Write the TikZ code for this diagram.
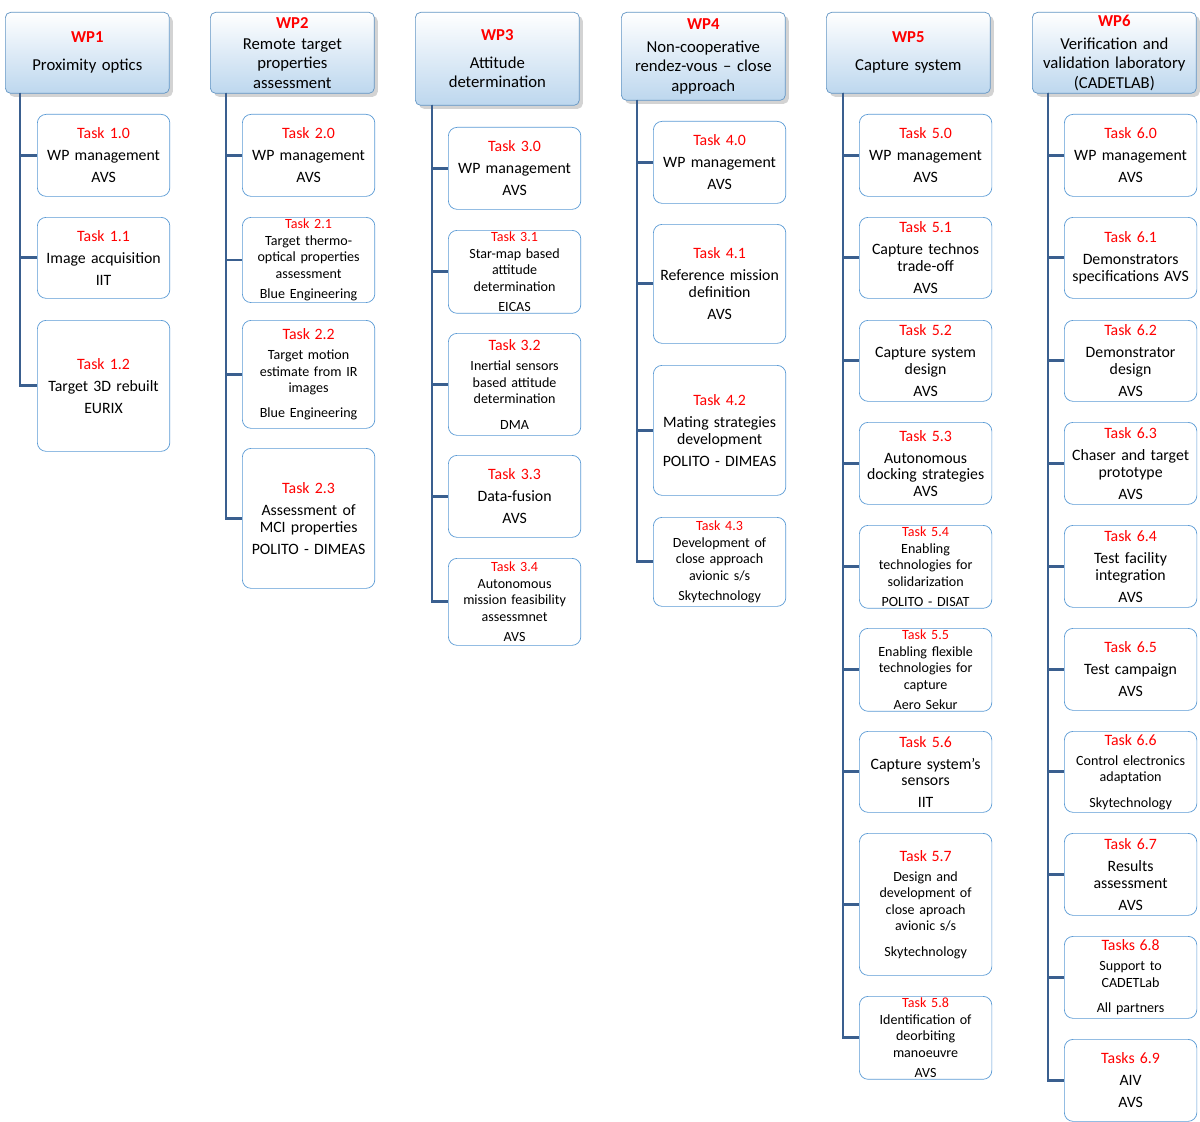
\documentclass[tikz,border=0pt]{standalone}
\usepackage{fontspec}
\setmainfont{Carlito}
\usetikzlibrary{shadows}
\definecolor{wpblue}{HTML}{BDD7EE}
\definecolor{linkblue}{HTML}{3A5F8F}
\definecolor{boxline}{HTML}{5B9BD5}
\tikzset{
  wpbox/.style={draw=boxline!80!gray, rounded corners=3pt, top color=white, bottom color=wpblue,
    drop shadow={opacity=0.35, shadow xshift=2pt, shadow yshift=-2pt},
    minimum width=3.28cm, text width=3.2cm, align=center, anchor=north west, inner sep=1pt,
    font=\fontsize{9.5}{11}\selectfont},
  taskbox/.style={draw=boxline, rounded corners=5pt, fill=white, minimum width=2.62cm,
    text width=2.58cm, align=center, anchor=north west, inner sep=1pt,
    font=\fontsize{9}{12.5}\selectfont},
  dense/.style={font=\fontsize{8}{9.4}\selectfont},
  link/.style={draw=linkblue, line width=1.6pt}
}
\hyphenpenalty=10000
% name, x, top, bottom, spine, text
\newcommand{\task}[7][]{%
  \node[taskbox,#1,minimum height={(#5-#4)*0.02cm}] (#2) at (#3,#4) {#7};
  \draw[link] (#6) |- (#2.west);}
\newcommand{\wpt}[1]{\textcolor{red}{#1}}
\begin{document}
\begin{tikzpicture}[x=0.02cm,y=-0.02cm]
\useasboundingbox (0,0) rectangle (1200,1122);

% WP1
\node[wpbox,minimum height=1.62cm] (wp1) at (5,12) {\wpt{\textbf{WP1}}\\[5pt]Proximity optics};
\coordinate (s1) at (20,93);
\task{t10}{37}{114}{196}{s1}{\wpt{Task 1.0}\\WP management\\AVS}
\task{t11}{37}{217}{298}{s1}{\wpt{Task 1.1}\\Image acquisition\\IIT}
\task{t12}{37}{320}{451}{s1}{\wpt{Task 1.2}\\Target 3D rebuilt\\EURIX}

% WP2
\node[wpbox,minimum height=1.62cm] (wp2) at (210,12) {\wpt{\textbf{WP2}}\\[1pt]Remote target\\properties\\assessment};
\coordinate (s2) at (226,93);
\task{t20}{242}{114}{196}{s2}{\wpt{Task 2.0}\\WP management\\AVS}
\task[dense]{t21}{242}{217}{298}{s2}{\wpt{Task 2.1}\\Target thermo-\\optical properties\\assessment\\[2pt]Blue Engineering}
\task[dense]{t22}{242}{320}{428}{s2}{\wpt{\fontsize{9}{10}\selectfont Task 2.2}\\[2pt]Target motion\\estimate from IR\\images\\[5pt]Blue Engineering}
\task{t23}{242}{448}{588}{s2}{\wpt{Task 2.3}\\Assessment of\\[-3pt]MCI properties\\POLITO - DIMEAS}

% WP3
\node[wpbox,minimum height=1.86cm] (wp3) at (415,12) {\wpt{\textbf{WP3}}\\[5pt]Attitude\\determination};
\coordinate (s3) at (432,105);
\task{t30}{448}{127}{209}{s3}{\wpt{Task 3.0}\\WP management\\AVS}
\task[dense]{t31}{448}{230}{311}{s3}{\wpt{Task 3.1}\\Star-map based\\attitude\\determination\\[2pt]EICAS}
\task[dense]{t32}{448}{333}{435}{s3}{\wpt{\fontsize{9}{10}\selectfont Task 3.2}\\[2pt]Inertial sensors\\based attitude\\determination\\[5pt]DMA}
\task{t33}{448}{455}{537}{s3}{\wpt{Task 3.3}\\Data-fusion\\AVS}
\task[dense]{t34}{448}{558}{645}{s3}{\wpt{Task 3.4}\\Autonomous\\mission feasibility\\assessmnet\\[2pt]AVS}

% WP4
\node[wpbox,minimum height=1.76cm] (wp4) at (621,12) {\wpt{\textbf{WP4}}\\[2pt]Non-cooperative\\rendez-vous -- close\\approach};
\coordinate (s4) at (637,100);
\task{t40}{653}{121}{203}{s4}{\wpt{Task 4.0}\\WP management\\AVS}
\task{t41}{653}{224}{343}{s4}{\wpt{Task 4.1}\\Reference mission\\[-3pt]definition\\AVS}
\task{t42}{653}{365}{495}{s4}{\wpt{Task 4.2}\\Mating strategies\\[-3pt]development\\POLITO - DIMEAS}
\task[dense]{t43}{653}{517}{606}{s4}{\wpt{Task 4.3}\\Development of\\close approach\\avionic s/s\\[2pt]Skytechnology}

% WP5
\node[wpbox,minimum height=1.62cm] (wp5) at (826,12) {\wpt{\textbf{WP5}}\\[5pt]Capture system};
\coordinate (s5) at (843,93);
\task{t50}{859}{114}{196}{s5}{\wpt{Task 5.0}\\WP management\\AVS}
\task{t51}{859}{217}{298}{s5}{\wpt{Task 5.1}\\Capture technos\\[-3pt]trade-off\\AVS}
\task{t52}{859}{320}{401}{s5}{\wpt{Task 5.2}\\Capture system\\[-3pt]design\\AVS}
\task{t53}{859}{422}{504}{s5}{\wpt{Task 5.3}\\Autonomous\\[-3pt]docking strategies\\[-3pt]AVS}
\task[dense]{t54}{859}{525}{607}{s5}{\wpt{Task 5.4}\\Enabling\\technologies for\\solidarization\\[2pt]POLITO - DISAT}
\task[dense]{t55}{859}{628}{710}{s5}{\wpt{Task 5.5}\\Enabling flexible\\technologies for\\capture\\[2pt]Aero Sekur}
\task{t56}{859}{731}{812}{s5}{\wpt{Task 5.6}\\Capture system’s\\[-3pt]sensors\\IIT}
\task[dense]{t57}{859}{833}{975}{s5}{\wpt{\fontsize{9}{10}\selectfont Task 5.7}\\[2pt]Design and\\development of\\close aproach\\avionic s/s\\[5pt]Skytechnology}
\task[dense]{t58}{859}{996}{1078}{s5}{\wpt{Task 5.8}\\Identification of\\deorbiting\\manoeuvre\\[2pt]AVS}

% WP6
\node[wpbox,minimum height=1.62cm] (wp6) at (1032,12) {\wpt{\textbf{WP6}}\\[2pt]Verification and\\validation laboratory\\(CADETLAB)};
\coordinate (s6) at (1048,93);
\task{t60}{1064}{114}{196}{s6}{\wpt{Task 6.0}\\WP management\\AVS}
\task{t61}{1064}{217}{298}{s6}{\wpt{Task 6.1}\\Demonstrators\\[-3pt]specifications AVS}
\task{t62}{1064}{320}{401}{s6}{\wpt{Task 6.2}\\Demonstrator\\[-3pt]design\\AVS}
\task{t63}{1064}{422}{504}{s6}{\wpt{Task 6.3}\\Chaser and target\\[-3pt]prototype\\AVS}
\task{t64}{1064}{525}{607}{s6}{\wpt{Task 6.4}\\Test facility\\[-3pt]integration\\AVS}
\task{t65}{1064}{628}{710}{s6}{\wpt{Task 6.5}\\Test campaign\\AVS}
\task[dense]{t66}{1064}{731}{812}{s6}{\wpt{\fontsize{9}{10}\selectfont Task 6.6}\\[2pt]Control electronics\\adaptation\\[5pt]Skytechnology}
\task{t67}{1064}{833}{915}{s6}{\wpt{Task 6.7}\\Results\\[-3pt]assessment\\AVS}
\task[dense]{t68}{1064}{936}{1018}{s6}{\wpt{\fontsize{9}{10}\selectfont Tasks 6.8}\\[2pt]Support to\\CADETLab\\[5pt]All partners}
\task{t69}{1064}{1039}{1121}{s6}{\wpt{Tasks 6.9}\\AIV\\AVS}
\end{tikzpicture}
\end{document}
